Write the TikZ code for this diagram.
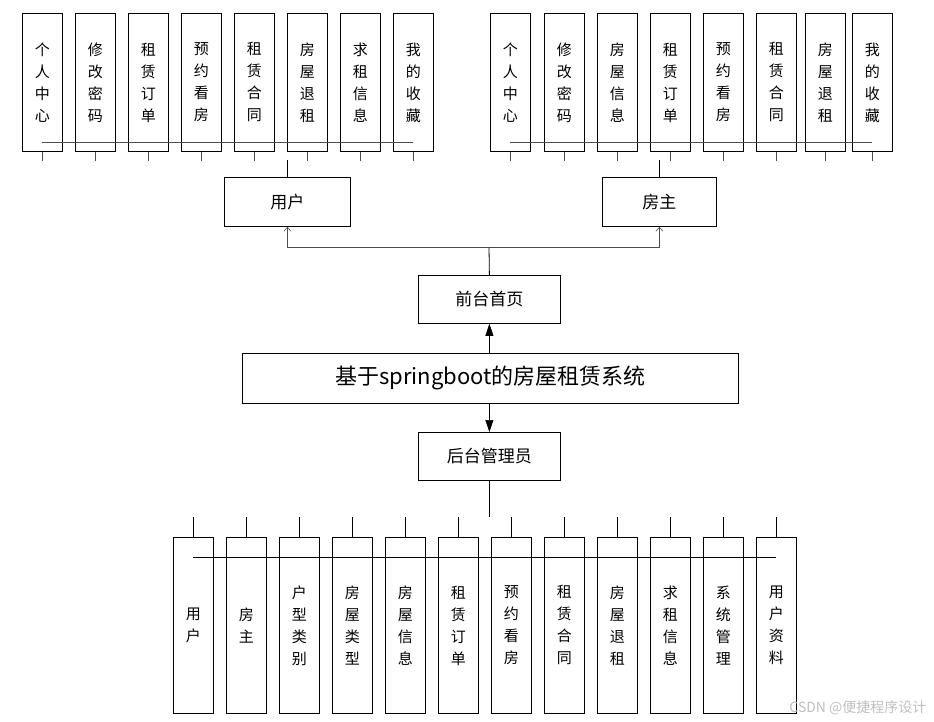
\documentclass[tikz,border=0pt]{standalone}
\usepackage{fontspec}
\setmainfont{Noto Sans CJK SC}
\usetikzlibrary{arrows.meta}
\begin{document}
\begin{tikzpicture}[x=1pt,y=-1pt,
  box/.style={draw,thick,anchor=north west,inner sep=0pt,align=center},
  vbox/.style={box,minimum width=40pt,text width=40pt,font=\fontsize{15}{22}\selectfont},
  hbox/.style={box,font=\fontsize{17}{20}\selectfont},
  ln/.style={draw=black!70,semithick}]
\useasboundingbox (0,0) rectangle (934,722);
\def\vt#1{\foreach \c in {#1}{\c\\}}
% top left group
\foreach \x/\t [count=\i] in {22/{个\\人\\中\\心},75/{修\\改\\密\\码},128/{租\\赁\\订\\单},181/{预\\约\\看\\房},234/{租\\赁\\合\\同},287/{房\\屋\\退\\租},340/{求\\租\\信\\息},393/{我\\的\\收\\藏}}
  {\node[vbox,minimum height=138pt] (l\i) at (\x,13) {\t};
   \draw[ln] (l\i.south) -- ++(0,9);}
\foreach \x/\t [count=\i] in {490/{个\\人\\中\\心},544/{修\\改\\密\\码},597/{房\\屋\\信\\息},650/{租\\赁\\订\\单},703/{预\\约\\看\\房},756/{租\\赁\\合\\同},805/{房\\屋\\退\\租},852/{我\\的\\收\\藏}}
  {\node[vbox,minimum height=138pt] (r\i) at (\x,13) {\t};
   \draw[ln] (r\i.south) -- ++(0,9);}
\draw[ln] ([yshift=9pt]l1.south) -- ([yshift=9pt]l8.south);
\draw[ln] ([yshift=9pt]r1.south) -- ([yshift=9pt]r8.south);
\node[hbox,minimum width=126pt,minimum height=49pt] (user) at (224,177) {用户};
\node[hbox,minimum width=114pt,minimum height=49pt] (owner) at (602,177) {房主};
\draw[thick] (user.north) -- (user.north|-0,160);
\draw[thick] (owner.north) -- (owner.north|-0,160);
\node[hbox,minimum width=142pt,minimum height=48pt] (front) at (418,275) {前台首页};
\node[box,minimum width=496pt,minimum height=50pt,font=\fontsize{22}{24}\selectfont] (sys) at (242,353) {基于springboot的房屋租赁系统};
\node[hbox,minimum width=142pt,minimum height=48pt] (back) at (418,432) {后台管理员};
\coordinate (j) at (489,247);
\draw[thick] (front.north) -- (j);
\draw[ln,-{Straight Barb[length=4pt,width=7pt]}] (j) -| (user.south);
\draw[ln,-{Straight Barb[length=4pt,width=7pt]}] (j) -| (owner.south);
\draw[semithick,-{Triangle[length=12pt,width=8pt]}] (sys.north-|front.south) -- (front.south);
\draw[semithick,-{Triangle[length=12pt,width=8pt]}] (sys.south-|back.north) -- (back.north);
\draw[very thick] (back.south) -- (back.south|-0,517);
\foreach \x/\t [count=\i] in {173/{用\\户},226/{房\\主},279/{户\\型\\类\\别},332/{房\\屋\\类\\型},385/{房\\屋\\信\\息},438/{租\\赁\\订\\单},491/{预\\约\\看\\房},544/{租\\赁\\合\\同},597/{房\\屋\\退\\租},650/{求\\租\\信\\息},703/{系\\统\\管\\理},756/{用\\户\\资\\料}}
  {\node[vbox,minimum height=176pt] (b\i) at (\x,537) {\t};
   \draw[thick] (b\i.north) -- ++(0,-20);}
\draw[thick] ([yshift=-20pt]b1.north) -- ([yshift=-20pt]b12.north);
\node[anchor=south east,text=black!25,font=\fontsize{14}{14}\selectfont] (wm) at (930,718) {CSDN @便捷程序设计};
\end{tikzpicture}
\end{document}
